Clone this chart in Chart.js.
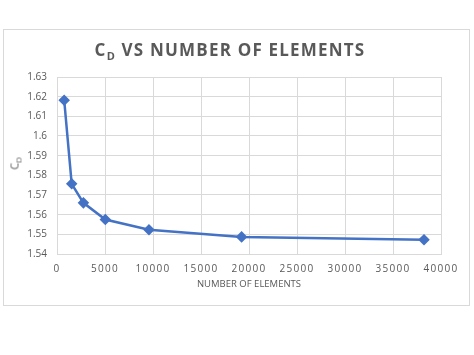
<!DOCTYPE html>
<html>
<head>
<meta charset="utf-8">
<script src="https://cdn.jsdelivr.net/npm/chart.js@4/dist/chart.umd.min.js"></script>
<style>
  html, body { margin: 0; padding: 0; background: #fff; }
  body { width: 474px; height: 355px; position: relative; overflow: hidden; }
  #box { position: absolute; left: 3px; top: 29px; width: 465px; height: 275px; border: 1px solid #d9d9d9; }
  #wrap { position: absolute; left: 0; top: 0; width: 465px; height: 275px; }
  #title { position: absolute; left: 0; top: 8px; width: 452px; text-align: center;
           font-family: "Open Sans", sans-serif; font-weight: bold; font-size: 17px; color: #595959;
           letter-spacing: 1.2px; white-space: nowrap; }
  #title sub { font-size: 11px; vertical-align: -4px; line-height: 0; }
  #ytitle { position: absolute; left: -2px; top: 126px; width: 24px; transform: rotate(-90deg); transform-origin: center;
            font-family: "Open Sans", sans-serif; font-size: 11px; color: #595959; text-align: center; white-space: nowrap; }
  #ytitle sub { font-size: 8px; vertical-align: -3px; line-height: 0; }
</style>
</head>
<body>
<div id="box">
  <div id="wrap"><canvas id="c" width="465" height="275"></canvas></div>
  <div id="title">C<sub>D</sub> VS NUMBER OF ELEMENTS</div>
  <div id="ytitle">C<sub>D</sub></div>
</div>
<script>
const elements = [750, 1530, 2750, 5030, 9580, 19230, 38230];
const cdValues = [1.6182, 1.5757, 1.5660, 1.5575, 1.5523, 1.5487, 1.5473];
const xTicks = [0, 5000, 10000, 15000, 20000, 25000, 30000, 35000, 40000];
const yTicks = [1.54, 1.55, 1.56, 1.57, 1.58, 1.59, 1.6, 1.61, 1.62, 1.63];
const xLabel = 'NUMBER OF ELEMENTS';

const points = elements.map((x, i) => ({ x: x, y: cdValues[i] }));
const grey = '#595959';
const gridCol = '#d9d9d9';
const tickFont = { family: '"Open Sans", sans-serif', size: 10 };

const spacedXLabels = {
  id: 'spacedXLabels',
  afterLayout(chart) {
    const sc = chart.scales.x;
    if (sc._spaced) return;
    sc._spaced = true;
    const orig = sc.drawLabels;
    sc.drawLabels = function (area) {
      const ctx = this.ctx;
      ctx.save();
      ctx.letterSpacing = '1.3px';
      orig.call(this, area);
      ctx.restore();
    };
  }
};

new Chart(document.getElementById('c'), {
  type: 'scatter',
  data: {
    datasets: [{
      data: points,
      showLine: true,
      borderColor: '#4472C4',
      backgroundColor: '#4472C4',
      borderWidth: 2.5,
      pointStyle: 'rectRot',
      pointRadius: 4,
      pointHoverRadius: 4,
      tension: 0
    }]
  },
  plugins: [spacedXLabels],
  options: {
    responsive: false,
    animation: false,
    events: [],
    layout: { padding: { top: 47, right: 28, bottom: 0, left: 0 } },
    plugins: { legend: { display: false }, tooltip: { enabled: false }, title: { display: false } },
    scales: {
      x: {
        type: 'linear',
        min: 0, max: 40000,
        afterBuildTicks: (s) => { s.ticks = xTicks.map(v => ({ value: v })); },
        afterFit: (s) => { s.height = 51; },
        grid: { color: gridCol, drawTicks: false },
        border: { color: gridCol },
        ticks: { color: grey, font: tickFont, padding: 9, maxRotation: 0, autoSkip: false,
                 callback: (v) => String(v) },
        title: { display: true, text: xLabel, color: grey,
                 font: { family: '"Open Sans", sans-serif', size: 9.5 }, padding: { top: 0, bottom: 15 } }
      },
      y: {
        type: 'linear',
        min: 1.54, max: 1.63,
        afterBuildTicks: (s) => { s.ticks = yTicks.map(v => ({ value: v })); },
        afterFit: (s) => { s.width = 53; },
        grid: { color: gridCol, drawTicks: false },
        border: { display: false },
        ticks: { color: grey, font: tickFont, padding: 10, autoSkip: false,
                 callback: (v) => String(parseFloat(Number(v).toFixed(2))) }
      }
    }
  }
});
</script>
</body>
</html>
